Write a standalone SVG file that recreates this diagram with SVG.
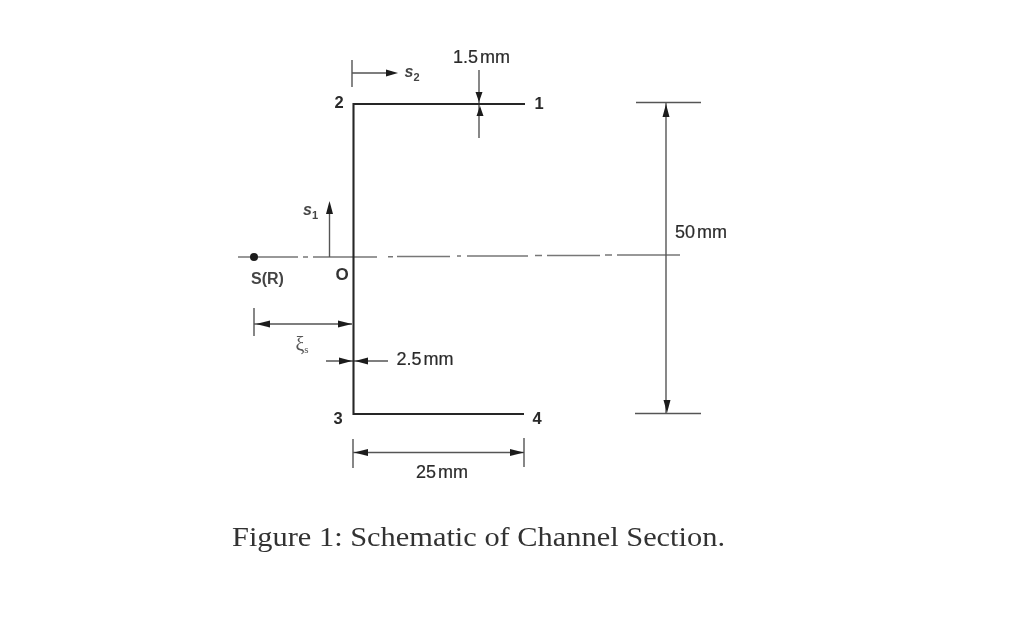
<svg xmlns="http://www.w3.org/2000/svg" width="1024" height="622" viewBox="0 0 1024 622">
<defs><filter id="soft" x="0" y="0" width="1" height="1" filterUnits="objectBoundingBox"><feGaussianBlur stdDeviation="0.5"/></filter></defs>
<style>
text{font-family:"Liberation Sans",Arial,sans-serif;fill:#2a2a2a;font-size:16px;text-anchor:middle}
.m{font-size:18px;stroke:#2a2a2a;stroke-width:.2;word-spacing:-3px}
.b{font-weight:bold;font-size:16.500px}
.i{font-style:italic;font-weight:bold;font-size:16px;fill:#444}
.sub{font-style:normal;font-size:11px}
.cap{font-family:"Liberation Serif",serif;font-size:27px;fill:#333;text-anchor:start}
.web{fill:none;stroke:#262626;stroke-width:2.100}
.d{stroke:#555;stroke-width:1.400;fill:none}
.c{stroke:#777;stroke-width:1.400;fill:none}
.a{fill:#1c1c1c}
</style>
<rect width="1024" height="622" fill="#fff"/>
<g filter="url(#soft)">
<g id="connectors">
<path class="c" d="M238 257H298M303 257H308M313 257H377M388 256.800H393M397 256.500H450M457 256H461M467 256H528M535 255.500H542M547 255.500H600M605 255H612M617 255H680"/>
<path class="d" d="M352 60V87M352 73H392"/>
<path class="a" d="M398 73l-12-3.500v7z"/>
<path class="d" d="M479 70V138"/>
<path class="a" d="M479 102l-3.500-10h7zM480 106l-3.500 10h7z"/>
<path class="d" d="M329.500 257V212"/>
<path class="a" d="M329.500 201l-3.500 13h7z"/>
<path class="d" d="M254 308V336M254 324H352"/>
<path class="a" d="M256 324l14-3.500v7zM352 324l-14-3.500v7z"/>
<path class="d" d="M326 361H388"/>
<path class="a" d="M352 361l-13-3.500v7zM355 361l13-3.500v7z"/>
<path class="d" d="M353 439V468M524 438V467M353 452.500H524"/>
<path class="a" d="M354 452.500l14-3.500v7zM524 452.500l-14-3.500v7z"/>
<path class="d" d="M636 102.500H701M635 413.500H701"/>
<path class="d" d="M666 103V413" stroke-width="1.800"/>
<path class="a" d="M666 104l-3.500 13h7zM667 413l-3.500-13h7z"/>
</g>
<g id="channel-section"><path class="web" d="M525 104H353.500V414H524"/></g>
<g id="point-shear-centre"><circle cx="254" cy="257" r="4" fill="#1c1c1c"/></g>
<g id="label-1-5-mm"><text x="481.500" y="63" class="m">1.5 mm</text></g>
<g id="label-s2"><text x="412" y="77" class="i">s<tspan class="sub" dy="4">2</tspan></text></g>
<g id="node-2"><text x="339" y="108" class="b">2</text></g>
<g id="node-1"><text x="539" y="109" class="b">1</text></g>
<g id="label-s1"><text x="310.500" y="215" class="i">s<tspan class="sub" dy="4">1</tspan></text></g>
<g id="label-50-mm"><text x="701" y="238" class="m">50 mm</text></g>
<g id="label-s-r"><text x="267.500" y="284" style="font-size:16px;font-weight:bold;fill:#444">S(R)</text></g>
<g id="label-o"><text x="342" y="280" style="font-size:17px;font-weight:bold;fill:#333">O</text></g>
<g id="label-xi-s"><text x="302" y="351" style="font-size:20px;font-family:'Liberation Serif',serif;fill:#555">ξ<tspan class="sub" dy="2">s</tspan></text></g>
<g id="label-2-5-mm"><text x="425" y="365" class="m">2.5 mm</text></g>
<g id="node-3"><text x="338" y="424" class="b">3</text></g>
<g id="node-4"><text x="537" y="424" class="b">4</text></g>
<g id="label-25-mm"><text x="442" y="478" class="m">25 mm</text></g>
<g id="caption"><text x="232" y="546" class="cap" textLength="493" lengthAdjust="spacingAndGlyphs">Figure 1: Schematic of Channel Section.</text></g>
</g>
</svg>
